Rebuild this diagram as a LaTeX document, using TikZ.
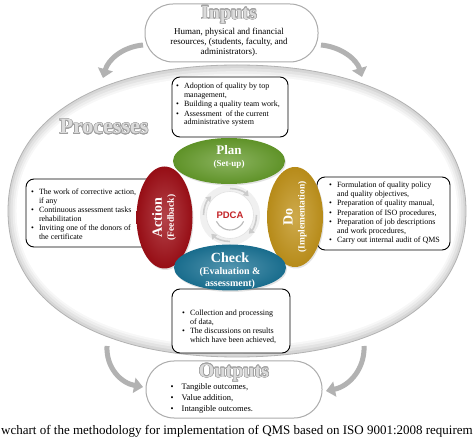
\documentclass[tikz,border=0pt]{standalone}
\usepackage{fontspec}
\setmainfont{Liberation Serif}
\newfontfamily\pdcafont{Liberation Sans}
\usepackage[copies]{contour}
\contourlength{0.55pt}
\usetikzlibrary{arrows.meta,shapes.geometric,shadows}
\definecolor{plangreen}{RGB}{100,154,42}
\definecolor{dogold}{RGB}{192,146,26}
\definecolor{actred}{RGB}{158,14,22}
\definecolor{checkblue}{RGB}{26,114,148}
\definecolor{pdcared}{RGB}{196,36,40}
\newcommand\procpath{(-229,0) .. controls (-229,-90.5) and (-142,-146) .. (0,-146) .. controls (142,-146) and (229,-90.5) .. (229,0) .. controls (229,90.5) and (142,146) .. (0,146) .. controls (-142,146) and (-229,90.5) .. (-229,0) -- cycle}
\newcommand\bt{\textbullet}
\newcommand\ttl[1]{\textcolor{gray!28}{\contour{gray!75}{#1}}}
\begin{document}
\begin{tikzpicture}[x=1pt,y=-1pt,
  titletext/.style={font=\fontsize{20}{20}\selectfont\bfseries, inner sep=0},
  bulletbox/.style={draw=black, line width=0.9pt, rounded corners=8pt, fill=white},
  bullettext/.style={font=\fontsize{8}{8.5}\selectfont, align=left, inner sep=0, anchor=north west},
  pdcaell/.style={ellipse, inner sep=0, drop shadow={opacity=0.22, shadow xshift=1pt, shadow yshift=-1.5pt}},
  elltext/.style={text=white, align=center, inner sep=0, font=\bfseries},
  bigarrow/.style={line width=5pt, draw=gray!60, -{Triangle[length=9pt,width=15pt]}},
  roundbox/.style={draw=gray!65, line width=1pt, fill=white, rounded corners=28pt},
]
\useasboundingbox (0,0) rectangle (474,438);
\fill[white] (0,0) rectangle (474,438);
% processes shape
\begin{scope}[shift={(237,211)}]
  \fill[gray!32] \procpath;
  \fill[gray!22, xscale=0.99, yscale=0.978] \procpath;
  \fill[gray!13, xscale=0.98, yscale=0.958] \procpath;
  \fill[gray!6, xscale=0.971, yscale=0.94] \procpath;
  \fill[white, xscale=0.963, yscale=0.925] \procpath;
  \draw[gray!60, line width=0.8pt] \procpath;
\end{scope}
\node[titletext, font=\fontsize{22}{22}\selectfont\bfseries] (proctitle) at (104,127) {\ttl{Processes}};
% inputs
\node[roundbox, minimum width=173, minimum height=58] (inputs) at (231.5,33) {};
\node[titletext] (inputstitle) at (229,15) {\ttl{Inputs}};
\node[font=\fontsize{9}{10}\selectfont, align=center, inner sep=0] (inputstext) at (229,42) {Human, physical and financial\\ resources, (students, faculty, and\\ administrators).};
% outputs
\node[roundbox, minimum width=176, minimum height=57] (outputs) at (234,389.5) {};
\node[titletext] (outputstitle) at (234,373) {\ttl{Outputs}};
\node[bullettext, font=\fontsize{8.5}{11}\selectfont] (outputstext) at (170.5,382) {\begin{tabular}{@{}l@{\hspace{8pt}}l@{}}
\bt & Tangible outcomes,\\ \bt & Value addition,\\ \bt & Intangible outcomes.\end{tabular}};
% arrows
\coordinate (a1s) at (143,45); \coordinate (a1e) at (103,78);
\coordinate (a2s) at (321,45); \coordinate (a2e) at (362,77);
\coordinate (a3s) at (107,346); \coordinate (a3e) at (143,387);
\coordinate (a4s) at (364,346); \coordinate (a4e) at (326,391);
\draw[bigarrow] (a1s) .. controls (122,47) and (108,60) .. (a1e);
\draw[bigarrow] (a2s) .. controls (342,47) and (357,60) .. (a2e);
\draw[bigarrow] (a3s) .. controls (106,368) and (121,383) .. (a3e);
\draw[bigarrow] (a4s) .. controls (365,368) and (350,386) .. (a4e);
% bullet boxes
\node[bulletbox, minimum width=116, minimum height=60] (planbox) at (230,107) {};
\node[bullettext] (plantext) at (176,82.5) {\begin{tabular}{@{}l@{\hspace{5pt}}l@{}}
\bt & Adoption of quality by top\\ & management,\\[1pt]
\bt & Building a quality team work,\\[1pt]
\bt & Assessment\ \ of the current\\ & administrative system\end{tabular}};
\node[bulletbox, minimum width=134, minimum height=68] (actbox) at (93,213) {};
\node[bullettext] (acttext) at (31,188.5) {\begin{tabular}{@{}l@{\hspace{5pt}}l@{}}
\bt & The work of corrective action,\\ & if any\\[1pt]
\bt & Continuous assessment tasks\\ & rehabilitation\\[1pt]
\bt & Inviting one of the donors of\\ & the certificate\end{tabular}};
\node[bulletbox, minimum width=133, minimum height=73] (dobox) at (383.5,213.5) {};
\node[bullettext] (dotext) at (329,181.5) {\begin{tabular}{@{}l@{\hspace{5pt}}l@{}}
\bt & Formulation of quality policy\\ & and quality objectives,\\[1pt]
\bt & Preparation of quality manual,\\[1pt]
\bt & Preparation of ISO procedures,\\[1pt]
\bt & Preparation of job descriptions\\ & and work procedures,\\[1pt]
\bt & Carry out internal audit of QMS\end{tabular}};
\node[bulletbox, minimum width=118, minimum height=64] (checkbox) at (231,321) {};
\node[bullettext] (checktext) at (182,309.5) {\begin{tabular}{@{}l@{\hspace{5pt}}l@{}}
\bt & Collection and processing\\ & of data,\\[1pt]
\bt & The discussions on results\\ & which have been achieved,\end{tabular}};
% PDCA center
\node[circle, minimum size=60, inner sep=0, fill=gray!12] (pdca) at (230,215) {};
\node[circle, minimum size=47, inner sep=0, fill=white, draw=gray!22, line width=0.6pt] (pdcain) at (pdca.center) {};
\foreach \a in {45,135,225,315}
  \draw[gray!40, line width=1.6pt, -{Triangle[length=5pt,width=6.5pt]}] ([shift={({\a-45}:26.5)}]pdca.center) arc ({\a-45}:{\a}:26.5);
\draw[gray!55, line width=1.1pt] ([shift={(25:15)}]pdca.center) arc (25:155:15);
\node[inner sep=0, font=\pdcafont\bfseries\fontsize{9.5}{9.5}\selectfont, text=pdcared] (pdcatext) at (pdca.center) {PDCA};
% PDCA ellipses
\node[pdcaell, minimum width=112, minimum height=46, shade, inner color=plangreen!75!white, outer color=plangreen!95!black] (plan) at (229,161) {};
\node[elltext] (plantxt) at (229,157) {\fontsize{13}{14}\selectfont\bfseries Plan\\ \fontsize{9}{10}\selectfont\bfseries (Set-up)};
\node[pdcaell, minimum width=56, minimum height=102, shade, inner color=actred!78!white, outer color=actred!95!black] (action) at (164.5,217.5) {};
\node[elltext, rotate=90] (acttxt) at (164,217.5) {\fontsize{14}{14}\selectfont\bfseries Action\\ \fontsize{9.5}{10}\selectfont\bfseries (Feedback)};
\node[pdcaell, minimum width=56, minimum height=100, shade, inner color=dogold!78!white, outer color=dogold!95!black] (do) at (295,217) {};
\node[elltext, rotate=90] (dotxt) at (295,217) {\fontsize{14}{14}\selectfont\bfseries Do\\ \fontsize{9.5}{10}\selectfont\bfseries (Implementation)};
\node[pdcaell, minimum width=112, minimum height=46, shade, inner color=checkblue!75!white, outer color=checkblue!95!black] (check) at (230,267.5) {};
\node[elltext] (checktxt) at (230,271) {\fontsize{14}{13}\selectfont\bfseries Check\\ \fontsize{10}{11}\selectfont\bfseries (Evaluation \&\\ \bfseries assessment)};
% caption
\node[font=\fontsize{13}{13}\selectfont, inner sep=0] (caption) at (237,431) {wchart of the methodology for implementation of QMS based on ISO 9001:2008 requirem};
\end{tikzpicture}
\end{document}
